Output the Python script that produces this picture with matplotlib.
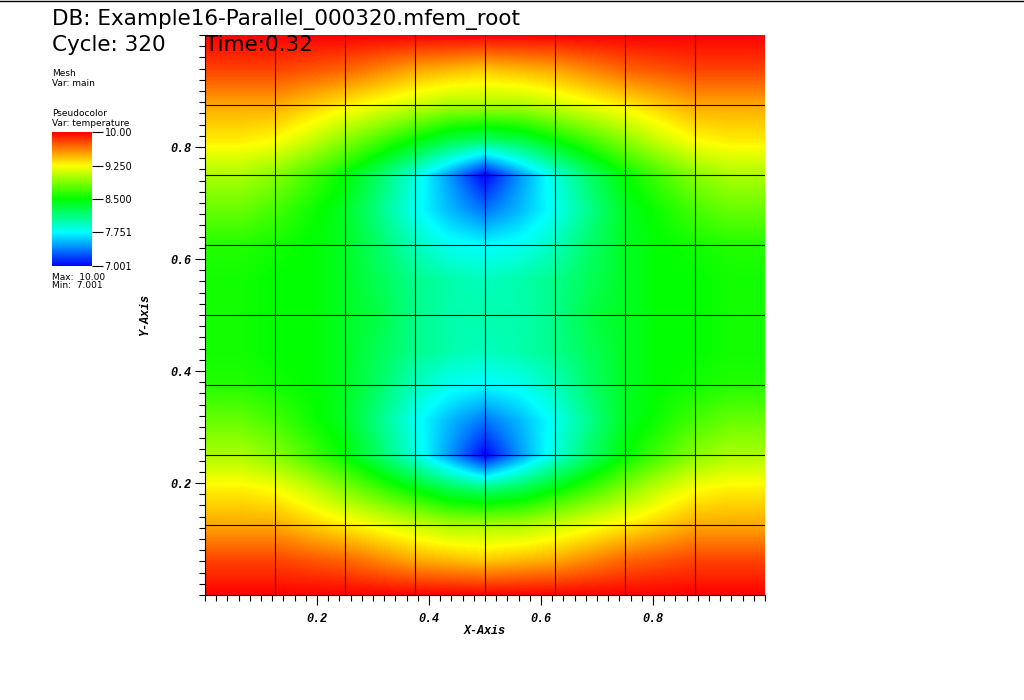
import numpy as np
import matplotlib
matplotlib.use("Agg")
import matplotlib.pyplot as plt
from matplotlib.colors import LinearSegmentedColormap
from matplotlib.ticker import MultipleLocator

# temperature at nodes x = 0..0.5 step 1/16 (mirrored in x), rows y = 0..1 step 1/16
half_rows = [
    [10.0, 10.0, 10.0, 10.0, 10.0, 10.0, 10.0, 10.0, 10.0],
    [9.8, 9.8, 9.8, 9.75, 9.7, 9.6, 9.5, 9.45, 9.4],
    [9.5, 9.5, 9.5, 9.4, 9.3, 9.2, 9.1, 9.0, 9.0],
    [9.3, 9.3, 9.25, 9.1, 8.9, 8.7, 8.5, 8.3, 8.2],
    [9.0, 9.0, 8.9, 8.7, 8.5, 8.2, 7.85, 7.45, 7.0],
    [8.8, 8.8, 8.7, 8.55, 8.4, 8.1, 7.8, 7.55, 7.35],
    [8.6, 8.6, 8.55, 8.5, 8.4, 8.2, 7.95, 7.8, 7.75],
    [8.55, 8.55, 8.5, 8.5, 8.4, 8.25, 8.1, 8.0, 7.95],
    [8.55, 8.55, 8.5, 8.5, 8.4, 8.3, 8.1, 8.0, 8.0],
    [8.55, 8.55, 8.5, 8.5, 8.4, 8.25, 8.1, 8.0, 7.95],
    [8.6, 8.6, 8.55, 8.5, 8.4, 8.2, 7.95, 7.8, 7.75],
    [8.8, 8.8, 8.7, 8.55, 8.4, 8.1, 7.8, 7.55, 7.35],
    [9.0, 9.0, 8.9, 8.7, 8.5, 8.2, 7.85, 7.45, 7.0],
    [9.3, 9.3, 9.25, 9.1, 8.9, 8.7, 8.5, 8.3, 8.2],
    [9.5, 9.5, 9.5, 9.4, 9.3, 9.2, 9.1, 9.0, 9.0],
    [9.8, 9.8, 9.8, 9.75, 9.7, 9.6, 9.5, 9.45, 9.4],
    [10.0, 10.0, 10.0, 10.0, 10.0, 10.0, 10.0, 10.0, 10.0],
]
vmin, vmax = 7.001, 10.00
cbar_ticks = [7.001, 7.751, 8.500, 9.250, 10.00]
cbar_labels = ["7.001", "7.751", "8.500", "9.250", "10.00"]
xticks = [0.2, 0.4, 0.6, 0.8]
yticks = [0.2, 0.4, 0.6, 0.8]
mesh_lines = [0.125, 0.25, 0.375, 0.5, 0.625, 0.75, 0.875]

H = np.array(half_rows)
field = np.hstack([H, H[:, -2::-1]])

cmap = LinearSegmentedColormap.from_list(
    "hot_visit", ["#0000ff", "#00ffff", "#00ff00", "#ffff00", "#ff0000"])

fig = plt.figure(figsize=(10.24, 7.0), dpi=100)
ax = fig.add_axes([205/1024, 1-595/700, 560/1024, 560/700])
d = 1/32
ax.imshow(field, origin="lower", extent=(-d, 1+d, -d, 1+d), cmap=cmap,
          vmin=vmin, vmax=vmax, interpolation="bilinear", aspect="auto")
for v in mesh_lines:
    ax.axvline(v, color="black", lw=0.8)
    ax.axhline(v, color="black", lw=0.8)
ax.set_xlim(0, 1)
ax.set_ylim(0, 1)
for s in ["top", "right"]:
    ax.spines[s].set_visible(False)
ax.spines["left"].set_linewidth(0.8)
ax.spines["bottom"].set_linewidth(0.8)
ax.set_xticks(xticks)
ax.set_yticks(yticks)
ax.xaxis.set_minor_locator(MultipleLocator(0.02))
ax.yaxis.set_minor_locator(MultipleLocator(0.02))
ax.tick_params(which="major", direction="out", length=7, width=0.8)
ax.tick_params(which="minor", direction="out", length=4, width=0.8)
tf = dict(family="Liberation Mono", weight="bold", style="italic", size=8.5)
ax.set_xticklabels([f"{t:.1f}" for t in xticks], **tf)
ax.set_yticklabels([f"{t:.1f}" for t in yticks], **tf)
ax.tick_params(axis="x", pad=6)
ax.tick_params(axis="y", pad=3)
ax.set_xlabel("X-Axis", labelpad=0, **tf)
ax.set_ylabel("Y-Axis", labelpad=14, **tf)

fig.add_artist(plt.Line2D([0, 1], [0.999, 0.999], color="black", lw=1))
fig.text(52/1024, 1-20/700, "DB: Example16-Parallel_000320.mfem_root", fontsize=15.5, va="center")
fig.text(52/1024, 1-45/700, "Cycle: 320", fontsize=15.5, va="center")
fig.text(205/1024, 1-45/700, "Time:0.32", fontsize=15.5, va="center")
sf = dict(fontsize=6.5, va="center")
fig.text(52/1024, 1-74/700, "Mesh", **sf)
fig.text(52/1024, 1-83/700, "Var: main", **sf)
fig.text(52/1024, 1-114/700, "Pseudocolor", **sf)
fig.text(52/1024, 1-123/700, "Var: temperature", **sf)
fig.text(52/1024, 1-277/700, "Max:  10.00", **sf)
fig.text(52/1024, 1-286/700, "Min:  7.001", **sf)

cax = fig.add_axes([52/1024, 1-266/700, 40/1024, 134/700])
grad = np.linspace(vmin, vmax, 256).reshape(-1, 1)
cax.imshow(grad, origin="lower", extent=(0, 1, vmin, vmax), cmap=cmap,
           vmin=vmin, vmax=vmax, aspect="auto")
cax.set_xticks([])
cax.yaxis.tick_right()
cax.set_yticks(cbar_ticks)
cax.set_yticklabels(cbar_labels, fontsize=7)
cax.tick_params(axis="y", direction="out", length=8, width=0.8, pad=1)
for s in cax.spines.values():
    s.set_visible(False)

fig.savefig("out.png", dpi=100)
